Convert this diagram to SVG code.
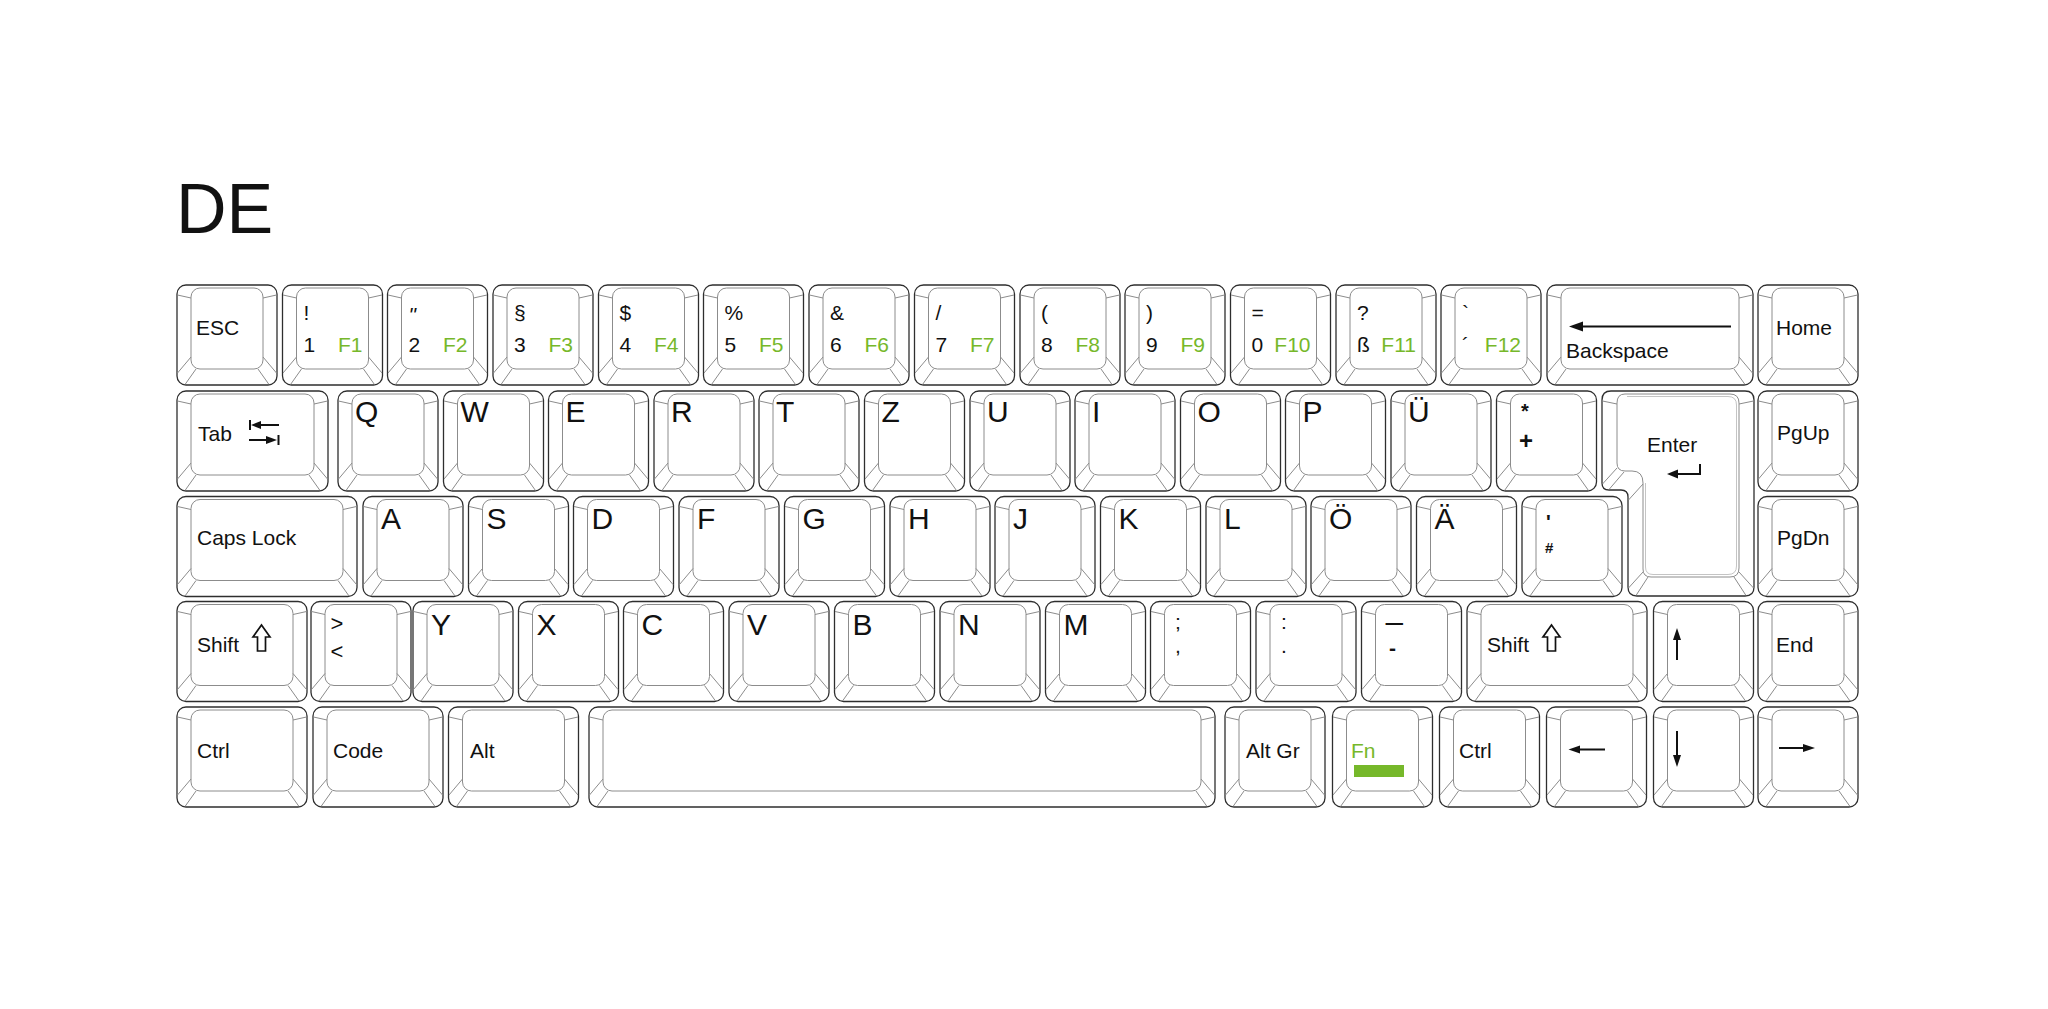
<svg xmlns="http://www.w3.org/2000/svg" xmlns:xlink="http://www.w3.org/1999/xlink" width="2048" height="1009" viewBox="0 0 2048 1009">
<style>
.o{fill:#fff;stroke:#2e2e2e;stroke-width:1.3}
.i{fill:none;stroke:#8c8c8c;stroke-width:1}
text{font-family:"Liberation Sans",Arial,sans-serif;fill:#111}
.lb{font-size:21px}
.lt{font-size:30px}
.sy{font-size:21px}
.fk{font-size:21px;fill:#76b82a;text-anchor:end}
.ar{stroke:#111;stroke-width:2;fill:none}
.ah{fill:#111}
</style>
<defs>
<g id="k100"><rect class="o" x="0" y="0" width="100" height="100" rx="9"/><rect class="i" x="14" y="3" width="72" height="81" rx="9"/><path class="i" d="M0.5,10L14,13M99.5,10L86,13M0.5,88L14,72M8,99.5L19,84M99.5,88L86,72M92,99.5L81,84"/></g>
<g id="k130"><rect class="o" x="0" y="0" width="130" height="100" rx="9"/><rect class="i" x="14" y="3" width="102" height="81" rx="9"/><path class="i" d="M0.5,10L14,13M129.5,10L116,13M0.5,88L14,72M8,99.5L19,84M129.5,88L116,72M122,99.5L111,84"/></g>
<g id="k151"><rect class="o" x="0" y="0" width="151" height="100" rx="9"/><rect class="i" x="14" y="3" width="123" height="81" rx="9"/><path class="i" d="M0.5,10L14,13M150.5,10L137,13M0.5,88L14,72M8,99.5L19,84M150.5,88L137,72M143,99.5L132,84"/></g>
<g id="k180"><rect class="o" x="0" y="0" width="180" height="100" rx="9"/><rect class="i" x="14" y="3" width="152" height="81" rx="9"/><path class="i" d="M0.5,10L14,13M179.5,10L166,13M0.5,88L14,72M8,99.5L19,84M179.5,88L166,72M172,99.5L161,84"/></g>
<g id="k206"><rect class="o" x="0" y="0" width="206" height="100" rx="9"/><rect class="i" x="14" y="3" width="178" height="81" rx="9"/><path class="i" d="M0.5,10L14,13M205.5,10L192,13M0.5,88L14,72M8,99.5L19,84M205.5,88L192,72M198,99.5L187,84"/></g>
<g id="k626"><rect class="o" x="0" y="0" width="626" height="100" rx="9"/><rect class="i" x="14" y="3" width="598" height="81" rx="9"/><path class="i" d="M0.5,10L14,13M625.5,10L612,13M0.5,88L14,72M8,99.5L19,84M625.5,88L612,72M618,99.5L607,84"/></g>
<g id="shiftIcon"><path d="M261.5,625L270,637H265.5V651H257.5V637H253Z" fill="none" stroke="#111" stroke-width="1.7" stroke-linejoin="miter"/></g>
</defs>
<rect width="2048" height="1009" fill="#fff"/>
<text id="title" x="176" y="233" style="font-size:70px">DE</text>

<g id="row1">
<g id="key-esc"><use xlink:href="#k100" x="177" y="285"/><text class="lb" x="196" y="335">ESC</text></g>
<g id="key-1"><use xlink:href="#k100" x="282.5" y="285"/><text class="sy" x="303.5" y="320">!</text><text class="sy" x="303.5" y="352">1</text><text class="fk" x="362.5" y="352">F1</text></g>
<g id="key-2"><use xlink:href="#k100" x="387.5" y="285"/><text class="sy" x="408.5" y="322" style="font-style:italic">"</text><text class="sy" x="408.5" y="352">2</text><text class="fk" x="467.5" y="352">F2</text></g>
<g id="key-3"><use xlink:href="#k100" x="493" y="285"/><text class="sy" x="514" y="320">§</text><text class="sy" x="514" y="352">3</text><text class="fk" x="573" y="352">F3</text></g>
<g id="key-4"><use xlink:href="#k100" x="598.5" y="285"/><text class="sy" x="619.5" y="320">$</text><text class="sy" x="619.5" y="352">4</text><text class="fk" x="678.5" y="352">F4</text></g>
<g id="key-5"><use xlink:href="#k100" x="703.5" y="285"/><text class="sy" x="724.5" y="320">%</text><text class="sy" x="724.5" y="352">5</text><text class="fk" x="783.5" y="352">F5</text></g>
<g id="key-6"><use xlink:href="#k100" x="809" y="285"/><text class="sy" x="830" y="320">&amp;</text><text class="sy" x="830" y="352">6</text><text class="fk" x="889" y="352">F6</text></g>
<g id="key-7"><use xlink:href="#k100" x="914.5" y="285"/><text class="sy" x="935.5" y="320">/</text><text class="sy" x="935.5" y="352">7</text><text class="fk" x="994.5" y="352">F7</text></g>
<g id="key-8"><use xlink:href="#k100" x="1020" y="285"/><text class="sy" x="1041" y="320">(</text><text class="sy" x="1041" y="352">8</text><text class="fk" x="1100" y="352">F8</text></g>
<g id="key-9"><use xlink:href="#k100" x="1125" y="285"/><text class="sy" x="1146" y="320">)</text><text class="sy" x="1146" y="352">9</text><text class="fk" x="1205" y="352">F9</text></g>
<g id="key-0"><use xlink:href="#k100" x="1230.5" y="285"/><text class="sy" x="1251.5" y="320">=</text><text class="sy" x="1251.5" y="352">0</text><text class="fk" x="1310.5" y="352">F10</text></g>
<g id="key-sz"><use xlink:href="#k100" x="1336" y="285"/><text class="sy" x="1357" y="320">?</text><text class="sy" x="1357" y="352">ß</text><text class="fk" x="1416" y="352">F11</text></g>
<g id="key-acute"><use xlink:href="#k100" x="1441" y="285"/><text class="sy" x="1462" y="320">`</text><text class="sy" x="1462" y="352">´</text><text class="fk" x="1521" y="352">F12</text></g>
<g id="key-backspace"><use xlink:href="#k206" x="1547" y="285"/><line class="ar" x1="1581" y1="326.5" x2="1731" y2="326.5"/><polygon class="ah" points="1569,326.5 1583,321.5 1583,331.5"/><text class="lb" x="1566" y="358">Backspace</text></g>
<g id="key-home"><use xlink:href="#k100" x="1758" y="285"/><text class="lb" x="1776" y="335">Home</text></g>
</g>

<g id="row2">
<g id="key-tab"><use xlink:href="#k151" x="177" y="391"/><text class="lb" x="198" y="441">Tab</text>
<line class="ar" x1="250" y1="420" x2="250" y2="430"/><line class="ar" x1="258" y1="425" x2="279" y2="425"/><polygon class="ah" points="251,425 261,421 261,429"/>
<line class="ar" x1="249" y1="440" x2="268" y2="440"/><polygon class="ah" points="277,440 266,436 266,444"/><line class="ar" x1="278.5" y1="435" x2="278.5" y2="445"/></g>
<g id="key-q"><use xlink:href="#k100" x="338" y="391"/><text class="lt" x="355" y="422">Q</text></g>
<g id="key-w"><use xlink:href="#k100" x="443.5" y="391"/><text class="lt" x="460.5" y="422">W</text></g>
<g id="key-e"><use xlink:href="#k100" x="548.5" y="391"/><text class="lt" x="565.5" y="422">E</text></g>
<g id="key-r"><use xlink:href="#k100" x="654" y="391"/><text class="lt" x="671" y="422">R</text></g>
<g id="key-t"><use xlink:href="#k100" x="759" y="391"/><text class="lt" x="776" y="422">T</text></g>
<g id="key-z"><use xlink:href="#k100" x="864.5" y="391"/><text class="lt" x="881.5" y="422">Z</text></g>
<g id="key-u"><use xlink:href="#k100" x="970" y="391"/><text class="lt" x="987" y="422">U</text></g>
<g id="key-i"><use xlink:href="#k100" x="1075" y="391"/><text class="lt" x="1092" y="422">I</text></g>
<g id="key-o"><use xlink:href="#k100" x="1180.5" y="391"/><text class="lt" x="1197.5" y="422">O</text></g>
<g id="key-p"><use xlink:href="#k100" x="1285.5" y="391"/><text class="lt" x="1302.5" y="422">P</text></g>
<g id="key-ue"><use xlink:href="#k100" x="1391" y="391"/><text class="lt" x="1408" y="422">Ü</text></g>
<g id="key-plus"><use xlink:href="#k100" x="1496.5" y="391"/><text class="sy" x="1521" y="418" style="font-weight:bold;font-size:20px">*</text><text class="sy" x="1519" y="449" style="font-weight:bold;font-size:24px">+</text></g>
<g id="key-enter">
<path class="o" d="M1611,391H1745Q1754,391 1754,400V587Q1754,596 1745,596H1637Q1628,596 1628,587V497Q1628,490 1621,490H1609Q1602,490 1602,483V400Q1602,391 1611,391Z"/>
<path class="i" d="M1625,394H1730Q1739,394 1739,403V568Q1739,577 1730,577H1651Q1643,577 1643,569V483Q1643,471 1632,471H1625Q1617,471 1617,463V403Q1617,394 1625,394Z"/>
<path class="i" style="stroke:#c4c4c4" d="M1627,396.5H1728Q1736.5,396.5 1736.5,405V566Q1736.5,574.5 1728,574.5H1653Q1645.5,574.5 1645.5,567V483"/>
<path class="i" d="M1602.5,401L1617,404M1753.5,401L1739,404M1602.5,484L1617,468M1609,489.5L1624,472M1628.5,500L1643,484M1628.5,588L1643,572M1636,595.5L1648,577M1753.5,588L1739,572M1746,595.5L1734,577"/>
<text class="lb" x="1647" y="452">Enter</text>
<line class="ar" x1="1676" y1="474" x2="1700" y2="474"/><line class="ar" x1="1700" y1="475" x2="1700" y2="464"/><polygon class="ah" points="1667,474 1678,469.5 1678,478.5"/>
</g>
<g id="key-pgup"><use xlink:href="#k100" x="1758" y="391"/><text class="lb" x="1777" y="440">PgUp</text></g>
</g>

<g id="row3">
<g id="key-caps"><use xlink:href="#k180" x="177" y="496.5"/><text class="lb" x="197" y="545">Caps Lock</text></g>
<g id="key-a"><use xlink:href="#k100" x="363" y="496.5"/><text class="lt" x="381" y="528.5">A</text></g>
<g id="key-s"><use xlink:href="#k100" x="468.5" y="496.5"/><text class="lt" x="486.5" y="528.5">S</text></g>
<g id="key-d"><use xlink:href="#k100" x="573.5" y="496.5"/><text class="lt" x="591.5" y="528.5">D</text></g>
<g id="key-f"><use xlink:href="#k100" x="679" y="496.5"/><text class="lt" x="697" y="528.5">F</text></g>
<g id="key-g"><use xlink:href="#k100" x="784.5" y="496.5"/><text class="lt" x="802.5" y="528.5">G</text></g>
<g id="key-h"><use xlink:href="#k100" x="890" y="496.5"/><text class="lt" x="908" y="528.5">H</text></g>
<g id="key-j"><use xlink:href="#k100" x="995" y="496.5"/><text class="lt" x="1013" y="528.5">J</text></g>
<g id="key-k"><use xlink:href="#k100" x="1100.5" y="496.5"/><text class="lt" x="1118.5" y="528.5">K</text></g>
<g id="key-l"><use xlink:href="#k100" x="1206" y="496.5"/><text class="lt" x="1224" y="528.5">L</text></g>
<g id="key-oe"><use xlink:href="#k100" x="1311" y="496.5"/><text class="lt" x="1329" y="528.5">Ö</text></g>
<g id="key-ae"><use xlink:href="#k100" x="1416.5" y="496.5"/><text class="lt" x="1434.5" y="528.5">Ä</text></g>
<g id="key-hash"><use xlink:href="#k100" x="1522" y="496.5"/><text class="sy" x="1546" y="529" style="font-weight:bold;font-size:20px">'</text><text class="sy" x="1545" y="553" style="font-weight:bold;font-size:15px">#</text></g>
<g id="key-pgdn"><use xlink:href="#k100" x="1758" y="496.5"/><text class="lb" x="1777" y="545">PgDn</text></g>
</g>

<g id="row4">
<g id="key-lshift"><use xlink:href="#k130" x="177" y="601.5"/><text class="lb" x="197" y="651.5">Shift</text><use xlink:href="#shiftIcon"/></g>
<g id="key-less"><use xlink:href="#k100" x="311" y="601.5"/><text class="sy" x="330.5" y="630.5" style="font-size:22px">&gt;</text><text class="sy" x="330.5" y="659" style="font-size:22px">&lt;</text></g>
<g id="key-y"><use xlink:href="#k100" x="413" y="601.5"/><text class="lt" x="431" y="635">Y</text></g>
<g id="key-x"><use xlink:href="#k100" x="518.5" y="601.5"/><text class="lt" x="536.5" y="635">X</text></g>
<g id="key-c"><use xlink:href="#k100" x="623.5" y="601.5"/><text class="lt" x="641.5" y="635">C</text></g>
<g id="key-v"><use xlink:href="#k100" x="729" y="601.5"/><text class="lt" x="747" y="635">V</text></g>
<g id="key-b"><use xlink:href="#k100" x="834.5" y="601.5"/><text class="lt" x="852.5" y="635">B</text></g>
<g id="key-n"><use xlink:href="#k100" x="940" y="601.5"/><text class="lt" x="958" y="635">N</text></g>
<g id="key-m"><use xlink:href="#k100" x="1045.5" y="601.5"/><text class="lt" x="1063.5" y="635">M</text></g>
<g id="key-comma"><use xlink:href="#k100" x="1150.5" y="601.5"/><text class="sy" x="1175" y="629">;</text><text class="sy" x="1175" y="653">,</text></g>
<g id="key-period"><use xlink:href="#k100" x="1256" y="601.5"/><text class="sy" x="1281" y="629">:</text><text class="sy" x="1281" y="653">.</text></g>
<g id="key-minus"><use xlink:href="#k100" x="1361.5" y="601.5"/><text class="sy" x="1386" y="619" style="font-size:30px">_</text><text class="sy" x="1389" y="655" style="font-weight:bold">-</text></g>
<g id="key-rshift"><use xlink:href="#k180" x="1467" y="601.5"/><text class="lb" x="1487" y="651.5">Shift</text><use xlink:href="#shiftIcon" x="1290"/></g>
<g id="key-up"><use xlink:href="#k100" x="1653.5" y="601.5"/><line class="ar" x1="1677" y1="638" x2="1677" y2="660"/><polygon class="ah" points="1677,628 1673,640 1681,640"/></g>
<g id="key-end"><use xlink:href="#k100" x="1758" y="601.5"/><text class="lb" x="1776" y="651.5">End</text></g>
</g>

<g id="row5">
<g id="key-lctrl"><use xlink:href="#k130" x="177" y="707"/><text class="lb" x="197" y="757.5">Ctrl</text></g>
<g id="key-code"><use xlink:href="#k130" x="313" y="707"/><text class="lb" x="333" y="757.5">Code</text></g>
<g id="key-alt"><use xlink:href="#k130" x="448.5" y="707"/><text class="lb" x="470" y="757.5">Alt</text></g>
<g id="key-space"><use xlink:href="#k626" x="589" y="707"/></g>
<g id="key-altgr"><use xlink:href="#k100" x="1225" y="707"/><text class="lb" x="1246" y="757.5">Alt Gr</text></g>
<g id="key-fn"><use xlink:href="#k100" x="1332.5" y="707"/><text class="lb" x="1351" y="757.5" style="fill:#76b82a">Fn</text><rect x="1354" y="765" width="50" height="12" fill="#76b82a"/></g>
<g id="key-rctrl"><use xlink:href="#k100" x="1439.5" y="707"/><text class="lb" x="1459" y="757.5">Ctrl</text></g>
<g id="key-left"><use xlink:href="#k100" x="1546.5" y="707"/><line class="ar" x1="1578" y1="749.5" x2="1605" y2="749.5"/><polygon class="ah" points="1568.5,749.5 1580,745.5 1580,753.5"/></g>
<g id="key-down"><use xlink:href="#k100" x="1653.5" y="707"/><line class="ar" x1="1677" y1="731" x2="1677" y2="757"/><polygon class="ah" points="1677,767 1673,755 1681,755"/></g>
<g id="key-right"><use xlink:href="#k100" x="1758" y="707"/><line class="ar" x1="1779" y1="748" x2="1805" y2="748"/><polygon class="ah" points="1815,748 1803,744 1803,752"/></g>
</g>
</svg>
